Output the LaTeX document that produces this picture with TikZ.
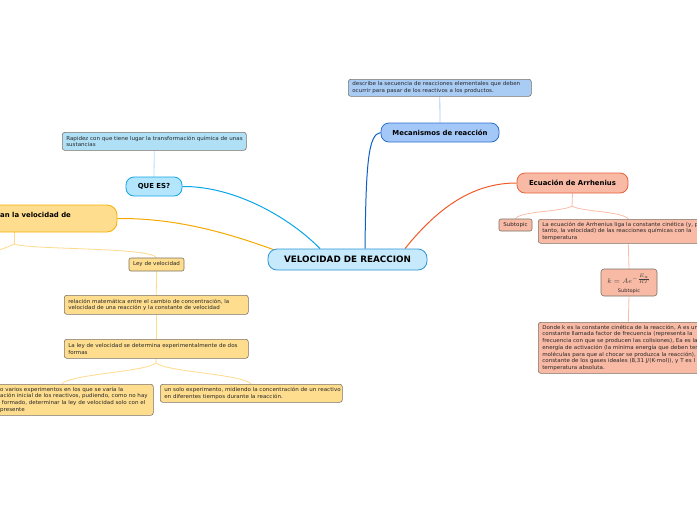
\documentclass[tikz,border=0pt]{standalone}
\usepackage{fontspec}
\setmainfont{DejaVu Sans}
\newfontfamily\descfont[FakeStretch=1.05]{DejaVu Sans}
\usetikzlibrary{calc,backgrounds}
\newcommand\mline[1]{\mbox{#1}}
\hbadness=10000 \hfuzz=200pt
\definecolor{cenfill}{HTML}{C6E9FB}
\definecolor{cenborder}{HTML}{2B95D9}
\definecolor{mecfill}{HTML}{A3C8F8}
\definecolor{mecborder}{HTML}{2F6FCC}
\definecolor{mecline}{HTML}{0C5EC8}
\definecolor{mecpale}{HTML}{A9CCF5}
\definecolor{quefill}{HTML}{B3E5FC}
\definecolor{queborder}{HTML}{12A4E6}
\definecolor{queline}{HTML}{0AA5E8}
\definecolor{quepale}{HTML}{B0E0F6}
\definecolor{orgfill}{HTML}{FEDD8E}
\definecolor{orgborder}{HTML}{F6B000}
\definecolor{orgline}{HTML}{F5A800}
\definecolor{orgpale}{HTML}{FDDA8C}
\definecolor{arrfill}{HTML}{F8BAA5}
\definecolor{arrborder}{HTML}{E8603C}
\definecolor{arrline}{HTML}{F05A28}
\definecolor{arrpale}{HTML}{F9BCA8}
\definecolor{descborder}{HTML}{7A7266}
\tikzset{
  topic/.style={rounded corners=8pt, line width=0.8pt, inner sep=0pt, font=\bfseries\fontsize{6.9}{8}\selectfont},
  desc/.style={rounded corners=2.5pt, draw=descborder, line width=0.6pt, inner sep=0pt, inner xsep=4pt, align=left, font=\descfont\fontsize{5.3}{6.7}\selectfont, text=black!85, anchor=north west},
  tag/.style={rounded corners=2pt, draw=descborder, line width=0.6pt, inner sep=0pt, align=center, font=\descfont\fontsize{5.3}{6.7}\selectfont, text=black!85},
  small/.style={font=\descfont\fontsize{5.3}{6.7}\selectfont, text=black!85, inner sep=0pt},
  main/.style={line width=1pt},
  pale/.style={line width=0.8pt}
}
\begin{document}
\begin{tikzpicture}[x=1pt,y=-1pt]
\useasboundingbox (0,0) rectangle (697,520);
\clip (0,0) rectangle (697,520);
% central
\node[topic, rounded corners=9pt, fill=cenfill, draw=cenborder, minimum width=159pt, minimum height=21pt, font=\bfseries\fontsize{8.8}{10}\selectfont] (central) at (347.5,259.5) {VELOCIDAD DE REACCION};
% mecanismos
\node[topic, fill=mecfill, draw=mecborder, minimum width=118pt, minimum height=19pt] (mec) at (440,132.5) {Mecanismos de reacción};
\node[desc, fill=mecpale, text width=175pt, minimum height=17pt] (mecdesc) at (348,79) {\mline{describe la secuencia de reacciones elementales que deben}\\\mline{ocurrir para pasar de los reactivos a los productos.}};
% que es
\node[topic, fill=quefill, draw=queborder, minimum width=56pt, minimum height=19pt] (quees) at (154,186.5) {QUE ES?};
\node[desc, fill=quepale, text width=176pt, minimum height=18pt] (quedesc) at (62,132) {\mline{Rapidez con que tiene lugar la transformación química de unas}\\\mline{sustancias}};
% orange
\node[topic, rounded corners=10pt, fill=orgfill, draw=orgborder, minimum width=167pt, minimum height=27pt] (orng) at (33.5,218.5) {};
\node[anchor=west, inner sep=0pt, font=\bfseries\fontsize{6.9}{8}\selectfont] (orngtext) at (0,215) {an la velocidad de};
\node[tag, fill=orgfill, minimum width=55pt, minimum height=13pt] (ley) at (156.5,264.5) {Ley de velocidad};
\node[desc, fill=orgfill, text width=176pt, minimum height=19pt] (rel) at (64,295) {\mline{relación matemática entre el cambio de concentración, la}\\\mline{velocidad de una reacción y la constante de velocidad}};
\node[desc, fill=orgfill, text width=176pt, minimum height=19pt] (laley) at (64,339) {\mline{La ley de velocidad se determina experimentalmente de dos}\\\mline{formas}};
\node[desc, fill=orgfill, text width=175pt, minimum height=31pt] (lbbox) at (-30,384) {};
\node[anchor=west, align=left, small] (lbtext) at (0,399.5) {\mline{o varios experimentos en los que se varía la}\\\mline{ación inicial de los reactivos, pudiendo, como no hay}\\\mline{ formado, determinar la ley de velocidad solo con el}\\\mline{presente}};
\node[desc, fill=orgfill, text width=174pt, minimum height=18pt] (rbbox) at (160,384) {\mline{un solo experimento, midiendo la concentración de un reactivo}\\\mline{en diferentes tiempos durante la reacción.}};
% arrhenius
\node[topic, fill=arrfill, draw=arrborder, minimum width=111pt, minimum height=20pt] (arr) at (572.5,183) {Ecuación de Arrhenius};
\node[tag, fill=arrfill, minimum width=33pt, minimum height=12pt] (subt) at (515.5,225) {Subtopic};
\node[desc, fill=arrfill, text width=172pt, minimum height=24pt] (arrdesc) at (538,219) {\mline{La ecuación de Arrhenius liga la constante cinética (y, p}\\\mline{tanto, la velocidad) de las reacciones químicas con la}\\\mline{temperatura}};
\node[rounded corners=3pt, fill=arrfill, draw=descborder, line width=0.6pt, inner sep=0pt, minimum width=56pt, minimum height=27pt] (formula) at (629,282.5) {};
\node[inner sep=0pt, font=\fontsize{7.5}{9}\selectfont, text=black!75] (ftext) at (629,279) {$k = Ae^{-\frac{E_a}{RT}}$};
\node[small, font=\descfont\fontsize{4.8}{5}\selectfont] (fsub) at (629,291) {Subtopic};
\node[desc, fill=arrfill, text width=172pt, minimum height=51pt] (bigdesc) at (538,322) {\mline{Donde k es la constante cinética de la reacción, A es un}\\\mline{constante llamada factor de frecuencia (representa la}\\\mline{frecuencia con que se producen las colisiones), Ea es la}\\\mline{energía de activación (la mínima energía que deben ten}\\\mline{moléculas para que al chocar se produzca la reacción), R}\\\mline{constante de los gases ideales (8,31 J/(K·mol)), y T es l}\\\mline{temperatura absoluta.}};
% connectors
\begin{scope}[on background layer]
\coordinate (cq) at ($(central.north)+(-27.5,0)$);
\coordinate (cm) at ($(central.north)+(17.5,0)$);
\coordinate (ca) at ($(central.north)+(57.5,0)$);
\coordinate (co) at ($(central.west)+(7,-9.5)$);
\draw[main, queline] (cq) .. controls (290,218) and (235,186) .. (quees.east);
\draw[main, mecline] (cm) .. controls (366,165) and (368,134) .. (mec.west);
\draw[main, arrline] (ca) .. controls (440,205) and (475,183) .. (arr.west);
\draw[main, orgline] (orng.east) .. controls (175,218) and (225,232) .. (co);
\draw[pale, mecpale] (mecdesc.south) -- (mec.north);
\draw[pale, quepale] (quedesc.south) -- (quees.north);
% orange children
\coordinate (ob) at ($(orng.south)+(-19.5,0)$);
\coordinate (oj) at (14,244);
\coordinate (oleft) at (-5,251);
\draw[pale, orgpale] (ob) -- (oj);
\draw[pale, orgpale] (oj) .. controls (30,250) and (150,247) .. (ley.north);
\draw[pale, orgpale] (oj) .. controls (8,247) and (3,249) .. (oleft);
\draw[pale, orgpale] (ley.south) -- (rel.north);
\draw[pale, orgpale] (rel.south) -- (laley.north);
\coordinate (lj) at (156,363);
\draw[pale, orgpale] (laley.south) -- (lj);
\draw[pale, orgpale] (lj) .. controls (145,372) and (70,374) .. (lbbox.north);
\draw[pale, orgpale] (lj) .. controls (167,372) and (242,374) .. (rbbox.north);
% arrhenius children
\coordinate (aj) at (572,206);
\draw[pale, arrpale] (arr.south) -- (aj);
\draw[pale, arrpale] (aj) .. controls (562,212) and (520,211) .. (subt.north);
\draw[pale, arrpale] (aj) .. controls (582,212) and (622,211) .. (arrdesc.north);
\draw[pale, arrpale] (arrdesc.south) -- (formula.north);
\draw[pale, arrpale] (formula.south) -- (bigdesc.north);
\end{scope}
\end{tikzpicture}
\end{document}
